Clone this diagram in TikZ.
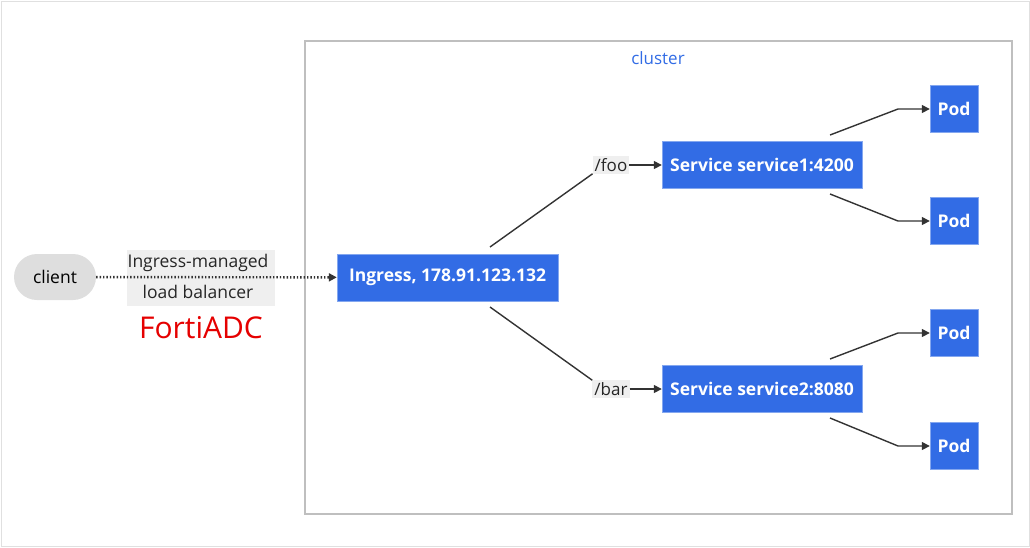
\documentclass[tikz,border=0pt]{standalone}
\usepackage{fontspec}
\setmainfont{Open Sans}
\usetikzlibrary{arrows.meta}
\definecolor{kblue}{HTML}{326CE5}
\definecolor{lbl}{HTML}{EFEFEF}
\begin{document}
\begin{tikzpicture}[x=1pt,y=-1pt,
 box/.style={fill=kblue,draw=kblue!60!white,text=white,font=\fontsize{17.5}{20}\selectfont\bfseries,minimum height=47pt,inner xsep=8pt},
 pod/.style={box,minimum width=48pt,inner xsep=0pt},
 edge/.style={draw=black!80,line width=1.4pt},
 arr/.style={edge,-{Triangle[length=8pt,width=8pt]}},
 plab/.style={fill=lbl,font=\fontsize{17}{20}\selectfont,inner sep=2pt,text=black!85}]
\useasboundingbox (0,0) rectangle (1030,547);
\draw[black!12] (1,1) rectangle (1029,546);
\draw[black!25,line width=1.5pt] (305,41) rectangle (1012,514);
\node[text=kblue,font=\fontsize{17}{20}\selectfont] (cl) at (658,58) {cluster};
\node[fill=black!13,rounded corners=23pt,minimum width=82pt,minimum height=46pt,font=\fontsize{17.5}{20}\selectfont] (client) at (55,277) {client};
\fill[lbl] (127,250) rectangle (275,306);
\node[font=\fontsize{17.5}{20}\selectfont,text=black!85] (l1) at (198,263) {Ingress-managed};
\node[font=\fontsize{17.5}{20}\selectfont,text=black!85] (l2) at (198,292) {load balancer};
\node[text=red!90!black,font=\fontsize{30}{34}\selectfont] (fa) at (201,328) {FortiADC};
\node[box,minimum width=221pt] (ing) at (447.5,277.5) {Ingress, 178.91.123.132};
\node[box,minimum width=200pt] (s1) at (762,165) {Service service1:4200};
\node[box,minimum width=200pt] (s2) at (762,389) {Service service2:8080};
\node[pod] (p1) at (954,109) {Pod};
\node[pod] (p2) at (954,221) {Pod};
\node[pod] (p3) at (954,333) {Pod};
\node[pod] (p4) at (954,446) {Pod};
\node[plab] (foo) at (611,165) {/foo};
\node[plab] (bar) at (611,389) {/bar};
\draw[arr,dotted,line width=2.4pt] (client) -- (ing);
\draw[edge] (490,247) -- (foo.south west);
\draw[edge] (490,307) -- (bar.north west);
\draw[arr] (foo) -- (s1);
\draw[arr] (bar) -- (s2);
\draw[arr] (830,135) -- (898,109) -- (p1);
\draw[arr] (830,194) -- (898,221) -- (p2);
\draw[arr] (830,359) -- (898,333) -- (p3);
\draw[arr] (830,418) -- (898,446) -- (p4);
\end{tikzpicture}
\end{document}
